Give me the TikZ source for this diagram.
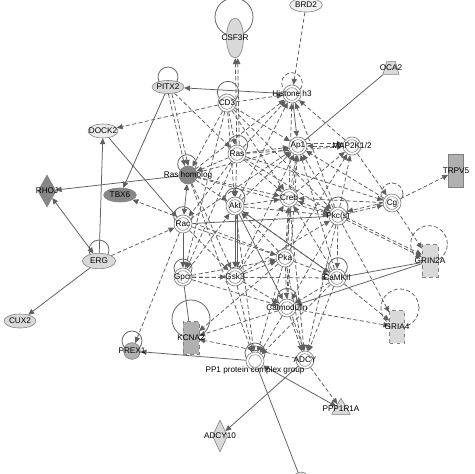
\documentclass[tikz,border=0pt]{standalone}
\usepackage{fontspec}
\setmainfont{Liberation Sans}
\usetikzlibrary{arrows.meta,shapes.geometric,backgrounds}
\definecolor{ln}{HTML}{5F5F5F}
\definecolor{rg}{HTML}{808080}
\definecolor{lf}{HTML}{D9D9D9}
\definecolor{mf}{HTML}{B0B0B0}
\definecolor{df}{HTML}{878787}
\tikzset{
 lbl/.style={inner sep=0pt, font=\fontsize{7}{8}\selectfont, text=black},
 hub/.style={circle, draw=rg, fill=white, line width=0.55pt, minimum size=0.54cm, inner sep=0pt,
   path picture={\draw[rg,line width=0.45pt] (path picture bounding box.center) circle[radius=0.19cm];}},
 gene/.style={draw=rg, line width=0.5pt, inner sep=1pt},
 ell/.style={gene, ellipse, fill=lf, minimum width=0.98cm, minimum height=0.42cm},
 box/.style={gene, rectangle, minimum width=0.47cm, minimum height=0.98cm},
 e/.style={draw=ln, line width=0.65pt},
 d/.style={e, dash pattern=on 3.5pt off 2pt},
 a/.style={-{Triangle[length=5pt,width=4.5pt]}},
 aa/.style={{Triangle[length=5pt,width=4.5pt]}-{Triangle[length=5pt,width=4.5pt]}},
 lp/.style={e},
 dlp/.style={d},
}
\begin{document}
\begin{tikzpicture}[x=0.03cm,y=-0.03cm]
\useasboundingbox (0,0) rectangle (474,474);
\clip (0,0) rectangle (474,474);
% gene nodes
\node[gene, ellipse, fill=lf, minimum width=0.51cm, minimum height=1.2cm, label={[lbl]center:CSF3R}] (csf) at (235,38) {};
\node[ell, fill=lf!40, label={[lbl]center:BRD2}] (top) at (306,5) {};
\node[ell, minimum width=0.96cm, minimum height=0.39cm, label={[lbl]center:PITX2}] (pitx2) at (168,87) {};
\node[ell, fill=lf!50, minimum width=0.9cm, label={[lbl]center:DOCK2}] (dock2) at (103,131) {};
\node[gene, trapezium, trapezium angle=68, trapezium stretches=true, fill=lf, minimum width=0.48cm, minimum height=0.38cm, label={[lbl]center:OCA2}] (oca2) at (391,68) {};
\node[box, fill=mf, minimum width=0.45cm, label={[lbl]center:TRPV5}] (trpv5) at (456,171) {};
\node[gene, diamond, fill=df, minimum width=0.54cm, minimum height=0.96cm, label={[lbl]center:RHOJ}] (rhoj) at (47,191) {};
\node[ell, fill=df, label={[lbl]center:TBX6}] (tbx6) at (120,195) {};
\node[ell, minimum width=1.0cm, minimum height=0.46cm, label={[lbl]center:ERG}] (erg) at (99,261) {};
\node[ell, minimum width=0.96cm, label={[lbl]center:CUX2}] (cux2) at (20,321) {};
\node[box, dashed, fill=lf, label={[lbl]center:GRIN2A}] (grin2a) at (430,261) {};
\node[box, dashed, fill=lf, minimum width=0.45cm, label={[lbl]center:GRIA4}] (gria4) at (397,327) {};
\node[box, dashed, fill=mf, label={[lbl]center:KCNA2}] (kcna2) at (191,338) {};
\node[gene, circle, fill=mf, minimum size=0.5cm, label={[lbl]center:PREX1}] (prex1) at (132,351) {};
\node[gene, regular polygon, regular polygon sides=3, fill=lf, minimum size=0.64cm, label={[lbl]center:PPP1R1A}] (ppp1r1a) at (341,409) {};
\node[gene, diamond, fill=lf, minimum width=0.45cm, minimum height=0.96cm, label={[lbl]center:ADCY10}] (adcy10) at (220,436) {};
\node[gene, circle, fill=lf, minimum size=0.48cm] (bot) at (301,480) {};
% hub nodes
\node[hub, label={[lbl]center:CD3}] (cd3) at (227,103) {};
\node[hub, label={[lbl]center:Histone h3}] (hh3) at (292,94) {};
\node[hub, label={[lbl]center:Ap1}] (ap1) at (298,146) {};
\node[hub, label={[lbl]center:MAP2K1/2}] (map) at (352,146) {};
\node[hub, label={[lbl]center:Ras}] (ras) at (237,154) {};
\node[hub, fill=df, label={[lbl]center:Ras homolog}] (rash) at (188,175) {};
\node[hub, label={[lbl]center:Akt}] (akt) at (235,206) {};
\node[hub, label={[lbl]center:Creb}] (creb) at (289,198) {};
\node[hub, label={[lbl]center:Pkc(s)}] (pkc) at (338,216) {};
\node[hub, label={[lbl]center:Cg}] (cg) at (392,203) {};
\node[hub, label={[lbl]center:Rac}] (rac) at (183,224) {};
\node[hub, label={[lbl]center:Gpcr}] (gpcr) at (183,277) {};
\node[hub, label={[lbl]center:Gsk3}] (gsk3) at (235,277) {};
\node[hub, label={[lbl]center:Pka}] (pka) at (285,258) {};
\node[hub, label={[lbl]center:CaMKII}] (camkii) at (337,278) {};
\node[hub, label={[lbl]center:Calmodulin}] (calm) at (287,308) {};
\node[hub, label={[lbl]center:ADCY}] (adcy) at (305,360) {};
\node[hub, label={[lbl,yshift=0.12cm]below:PP1 protein complex group}] (pp1) at (255,361) {};

\begin{pgfonlayer}{background}
\fill[white] (0,0) rectangle (474,474);
% self loops
\draw[lp] (csf.center) ++(-1,-21) circle[radius=0.57cm];
\draw[lp] (pitx2.center) ++(0,-10) circle[radius=0.3cm];
\draw[lp] (cd3.center) ++(1,-11) circle[radius=0.32cm];
\draw[dlp] (hh3.center) ++(0,-11) circle[radius=0.31cm];
\draw[lp] (ras.center) ++(1,-9) circle[radius=0.29cm];
\draw[lp] (rash.center) ++(-1,-11) circle[radius=0.28cm];
\draw[lp] (rac.center) ++(0,-8) circle[radius=0.28cm];
\draw[lp] (akt.center) ++(0,-8) circle[radius=0.3cm];
\draw[lp] (gpcr.center) ++(0,-9) circle[radius=0.27cm];
\draw[lp] (pkc.center) ++(0,-9) circle[radius=0.3cm];
\draw[dlp] (cg.center) ++(0,-9) circle[radius=0.33cm];
\draw[lp] (camkii.center) ++(1,-11) circle[radius=0.28cm];
\draw[lp] (calm.center) ++(0,-10) circle[radius=0.29cm];
\draw[lp] (pp1.center) ++(0,-8) circle[radius=0.3cm];
\draw[lp] (erg.center) ++(0,-11) circle[radius=0.3cm];
\draw[lp] (prex1.center) ++(0,-10) circle[radius=0.3cm];
\draw[lp] (kcna2.center) ++(0,-19) circle[radius=0.57cm];
\draw[dlp] (grin2a.center) ++(-1,-17) circle[radius=0.55cm];
\draw[dlp] (gria4.center) ++(3,-19) circle[radius=0.57cm];
% solid connectors
\foreach \s/\t in {hh3/pitx2, rash/rhoj, erg/cux2, erg/dock2, pitx2/tbx6, dock2/rac, rac/gpcr, hh3/ap1, akt/gsk3, akt/calm, pp1/prex1, adcy/adcy10, grin2a/calm, akt/camkii}
  \draw[e,a] (\s) -- (\t);
\foreach \s/\t in {rhoj/erg, rash/rac, pp1/ppp1r1a}
  \draw[e,aa] (\s) -- (\t);
\foreach \s/\t in {oca2/ap1, pp1/bot, grin2a/camkii, gpcr/kcna2, rac/pkc}
  \draw[e] (\s) -- (\t);
\draw[e,a,transform canvas={xshift=2pt}] (akt) -- (gsk3);
% dashed connectors
\foreach \s/\t in {cd3/dock2, cd3/hh3, ras/csf, pitx2/ras, top/hh3,
  ras/hh3, rash/hh3, akt/hh3, creb/hh3, map/hh3, pkc/hh3,
  cd3/ap1, cd3/ras, cd3/rash, cd3/akt, cd3/creb, cd3/pkc,
  ras/ap1, rash/ap1, akt/ap1, creb/ap1, pkc/ap1, map/ap1, cg/ap1, pka/ap1, gsk3/ap1, calm/ap1, camkii/ap1, rac/ap1,
  ras/map, creb/map, pkc/map, pka/map, map/cg,
  ras/rash, ras/akt, ras/creb, ras/pkc, ras/cg, ras/rac, ras/gpcr,
  rash/akt, rash/creb, rash/pkc, rash/gsk3,
  akt/creb, akt/pkc, pka/akt, gpcr/akt, camkii/akt,
  pkc/creb, pka/creb, calm/creb, camkii/creb, gsk3/creb, cg/creb,
  pkc/cg, pkc/camkii, pkc/calm, pkc/grin2a, pkc/gria4, pkc/adcy, gsk3/pkc,
  rac/gsk3, rac/pka, erg/rac, pka/tbx6, rac/prex1,
  gpcr/gsk3, gpcr/pka, gpcr/calm, gpcr/camkii,
  gsk3/pka, gsk3/calm, gsk3/pp1,
  pka/camkii, pka/calm, pka/adcy, pka/pp1, pka/kcna2,
  camkii/calm, camkii/gria4, camkii/adcy, camkii/pp1,
  calm/adcy, calm/pp1, calm/kcna2, calm/gria4,
  adcy/kcna2, adcy/ppp1r1a, cg/trpv5, cg/grin2a, rash/pp1, cd3/gpcr, akt/pp1, creb/adcy}
  \draw[d,a] (\s) -- (\t);
\draw[d,a,transform canvas={xshift=2pt}] (ras) -- (csf);
\draw[d,a,transform canvas={xshift=2pt}] (pitx2) -- (rash);
\draw[d,a,transform canvas={xshift=-1pt}] (pitx2) -- (rash);
\draw[d,a,transform canvas={yshift=2pt}] (ap1) -- (map);
\draw[d,a,transform canvas={yshift=2pt}] (cg) -- (pkc);
\draw[d,a,transform canvas={xshift=2pt}] (calm) -- (adcy);
\draw[d,a,transform canvas={yshift=2pt}] (pkc) -- (grin2a);
\end{pgfonlayer}
\end{tikzpicture}
\end{document}
